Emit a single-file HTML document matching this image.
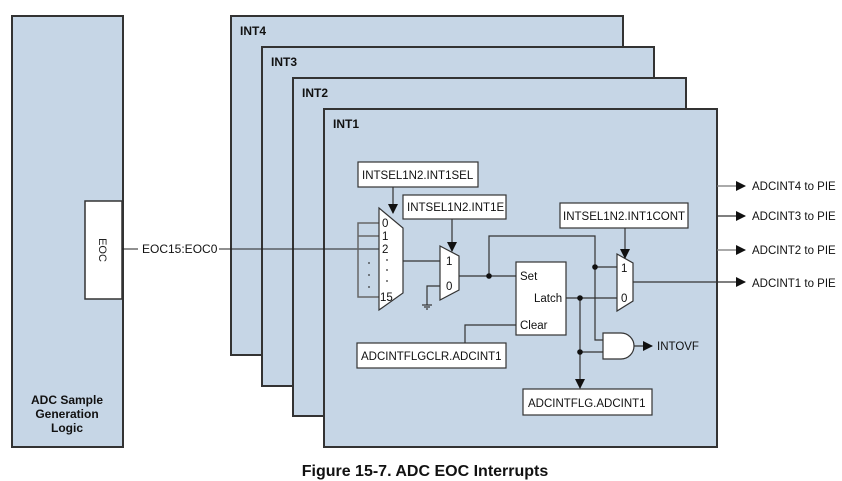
<!DOCTYPE html>
<html><head><meta charset="utf-8"><style>
html,body{margin:0;padding:0;background:#fff;}
svg{display:block;font-family:"Liberation Sans",Arial,sans-serif;}
</style></head><body>
<svg width="842" height="481" viewBox="0 0 842 481" xmlns="http://www.w3.org/2000/svg">
<defs>
<marker id="a" markerWidth="10" markerHeight="10" refX="9" refY="5" orient="auto" markerUnits="userSpaceOnUse">
<path d="M0,0 L10,5 L0,10 Z" fill="#111"/></marker>
</defs>
<g stroke="#333" stroke-width="2" fill="#c6d6e6">
<rect x="12" y="16" width="111" height="431"/>
<rect x="231" y="16" width="392" height="339"/>
<rect x="262" y="47" width="392" height="339"/>
<rect x="293" y="78" width="393" height="338"/>
<rect x="324" y="109" width="393" height="338"/>
</g>
<g font-weight="bold" font-size="12" fill="#111">
<text x="240" y="35">INT4</text>
<text x="271" y="66">INT3</text>
<text x="302" y="97">INT2</text>
<text x="333" y="128">INT1</text>
<text x="67" y="404" text-anchor="middle">ADC Sample</text>
<text x="67" y="418" text-anchor="middle">Generation</text>
<text x="67" y="432" text-anchor="middle">Logic</text>
</g>
<text x="425" y="476" text-anchor="middle" font-weight="bold" font-size="16" fill="#111">Figure 15-7. ADC EOC Interrupts</text>

<rect x="85" y="201" width="37" height="98" fill="#fff" stroke="#333" stroke-width="1.5"/>
<text transform="translate(99,250) rotate(90)" text-anchor="middle" font-size="11" fill="#222">EOC</text>
<line x1="122" y1="249" x2="138" y2="249" stroke="#222"/>
<text x="142" y="253" font-size="12" fill="#111">EOC15:EOC0</text>
<line x1="219" y1="249" x2="379" y2="249" stroke="#222"/>

<g stroke="#666" stroke-width="1.5" fill="none">
<path d="M379,223 H358 V297 H379"/>
<line x1="358" y1="236" x2="379" y2="236"/>
</g>
<g fill="#333">
<circle cx="369" cy="263" r="0.9"/><circle cx="369" cy="275" r="0.9"/><circle cx="369" cy="287" r="0.9"/>
</g>
<g fill="#fff" stroke="#333" stroke-width="1.2">
<rect x="358" y="162" width="120" height="25"/>
<rect x="403" y="195" width="103" height="24"/>
<rect x="560" y="203" width="128" height="25"/>
<rect x="357" y="343" width="149" height="25"/>
<rect x="523" y="389" width="129" height="26"/>
<rect x="516" y="262" width="50" height="73"/>
</g>
<g font-size="11.5" fill="#111">
<text x="362" y="179">INTSEL1N2.INT1SEL</text>
<text x="407" y="211">INTSEL1N2.INT1E</text>
<text x="563" y="220">INTSEL1N2.INT1CONT</text>
<text x="361" y="360">ADCINTFLGCLR.ADCINT1</text>
<text x="528" y="407">ADCINTFLG.ADCINT1</text>
<text x="520" y="280">Set</text>
<text x="534" y="302">Latch</text>
<text x="520" y="329">Clear</text>
</g>
<g fill="#fff" stroke="#333" stroke-width="1.2">
<path d="M379,208 L403,228 L403,293 L379,310 Z"/>
<path d="M440,246 L459,256 L459,290 L440,300 Z"/>
<path d="M617,254 L633,263 L633,301 L617,311 Z"/>
<path d="M603,333 H621 A13,13 0 0 1 621,359 H603 Z"/>
</g>
<g font-size="11.5" fill="#111">
<text x="382" y="227">0</text><text x="382" y="240">1</text><text x="382" y="253">2</text>
<text x="380" y="301">15</text>
<text x="446" y="265">1</text><text x="446" y="290">0</text>
<text x="621" y="272">1</text><text x="621" y="302">0</text>
</g>
<g fill="#333"><circle cx="387" cy="260" r="0.9"/><circle cx="387" cy="270" r="0.9"/><circle cx="387" cy="281" r="0.9"/></g>
<g stroke="#333" stroke-width="1.2" fill="none">
<line x1="393" y1="187" x2="393" y2="213" marker-end="url(#a)"/>
<line x1="452" y1="219" x2="452" y2="251" marker-end="url(#a)"/>
<line x1="625" y1="228" x2="625" y2="258" marker-end="url(#a)"/>
<line x1="403" y1="261" x2="440" y2="261"/>
<path d="M440,286 H427 V305"/>
<line x1="422" y1="305" x2="432" y2="305"/><line x1="424" y1="307" x2="430" y2="307"/><line x1="426" y1="309" x2="428" y2="309"/>
<line x1="459" y1="276" x2="516" y2="276"/>
<path d="M489,276 V236 H595 V340 H603"/>
<line x1="595" y1="267" x2="617" y2="267"/>
<line x1="566" y1="298" x2="617" y2="298"/>
<line x1="580" y1="298" x2="580" y2="388" marker-end="url(#a)"/>
<line x1="580" y1="352" x2="603" y2="352"/>
<line x1="634" y1="346" x2="652" y2="346" marker-end="url(#a)"/>
<path d="M516,325 H465 V343"/>
<line x1="633" y1="282" x2="745" y2="282" marker-end="url(#a)"/>
<line x1="717" y1="186" x2="745" y2="186" stroke="#777" marker-end="url(#a)"/>
<line x1="717" y1="216" x2="745" y2="216" marker-end="url(#a)"/>
<line x1="717" y1="250" x2="745" y2="250" stroke="#777" marker-end="url(#a)"/>
</g>
<g fill="#111">
<circle cx="489" cy="276" r="2.8"/><circle cx="595" cy="267" r="2.8"/>
<circle cx="580" cy="298" r="2.8"/><circle cx="580" cy="352" r="2.8"/>
</g>
<g font-size="11.5" fill="#111">
<text x="657" y="350">INTOVF</text>
<text x="752" y="190">ADCINT4 to PIE</text>
<text x="752" y="220">ADCINT3 to PIE</text>
<text x="752" y="254">ADCINT2 to PIE</text>
<text x="752" y="287">ADCINT1 to PIE</text>
</g>
</svg>
</body></html>
